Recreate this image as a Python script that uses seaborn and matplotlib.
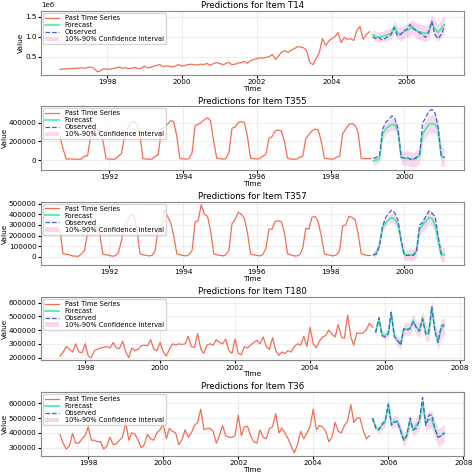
import numpy as np
import pandas as pd
import matplotlib
matplotlib.use("Agg")
import matplotlib.pyplot as plt
import matplotlib.ticker as mticker
import seaborn as sns

items = ["T14", "T355", "T357", "T180", "T36"]
past_start = ["1996-10", "1990-09", "1990-09", "1997-05", "1997-04"]

past_T14 = [.18,.19,.19,
 .20,.20,.21,.21,.22,.21,.23,.24,.20,.12,.15,.20,
 .18,.19,.20,.22,.24,.21,.22,.20,.21,.23,.20,.21,
 .26,.22,.23,.26,.28,.30,.25,.27,.26,.24,.27,.30,
 .26,.28,.30,.31,.30,.29,.31,.30,.33,.28,.32,.35,
 .33,.30,.32,.36,.30,.31,.34,.35,.38,.33,.40,.43,
 .45,.47,.46,.48,.50,.55,.43,.52,.62,.65,.60,.66,
 .70,.75,.74,.72,.65,.35,.30,.45,.60,.95,.78,.88,
 .95,1.0,1.1,.85,.98,.93,.95,.90,1.15,1.25,.93,1.05,
 1.12]
fc_T14 = [1.05,1.0,0.98,1.0,1.02,1.05,1.08,1.25,1.1,1.05,1.12,1.15,1.2,1.25,1.15,1.12,1.1,1.08,1.12,1.35,1.2,1.1,1.2,1.3]
obs_T14 = [1.0,.95,.98,.92,.95,1.0,1.05,1.22,1.02,1.05,1.15,1.18,1.3,1.2,1.15,1.1,1.05,.98,1.1,1.38,1.05,.95,1.05,1.25]
ci_T14 = [.12,.12,.13,.13,.14,.14,.15,.15,.16,.16,.17,.17,.18,.18,.19,.19,.2,.2,.21,.21,.22,.22,.23,.23]

past_T355 = [250,120,10,12,10,
 10,8,10,40,45,250,320,330,310,200,15,10,
 8,10,40,70,250,330,400,410,380,260,15,10,
 8,10,40,60,320,350,380,420,410,250,15,12,
 10,15,80,370,380,400,430,450,420,200,20,15,
 10,15,80,340,350,400,410,400,250,20,15,10,
 15,40,60,230,250,310,320,310,200,20,10,8,
 10,30,40,230,270,310,330,320,200,20,15,10,
 10,30,40,280,330,380,390,370,300,20,15,15,
 15]
fc_T355 = [-10,0,20,280,330,360,380,370,300,30,20, 15,10,5,15,50,280,330,380,390,380,330,40, 30]
obs_T355 = [15,30,50,330,400,430,470,440,330,30,20, 25,10,10,30,60,400,450,520,540,500,350,40, 25]
ci_T355 = [40,45,50,55,60,60,65,65,70,70,75,75,80,80,85,85,90,90,95,95,100,100,100,100]

past_T357 = [250,30,25,20,10,
 8,5,30,60,220,320,300,280,200,25,20,15,
 8,10,40,150,300,330,400,380,260,30,20,15,
 10,15,60,270,260,440,380,320,200,30,20,15,
 10,20,60,330,340,490,400,380,250,30,20,15,
 10,20,60,310,350,420,400,360,230,30,20,15,
 10,20,80,260,260,330,340,330,230,30,20,10,
 10,20,80,270,260,370,380,330,200,30,20,15,
 10,20,60,290,300,380,370,350,220,30,20,15,
 15]
fc_T357 = [20,40,120,280,320,350,370,350,300,150,20,20, 20,20,60,260,300,330,370,360,300,150,20,20]
obs_T357 = [15,30,100,290,370,410,440,410,340,150,20,15, 15,15,50,300,320,380,430,410,380,200,30,25]
ci_T357 = [30,30,35,35,40,40,45,45,50,50,50,55,55,55,60,60,60,65,65,65,70,70,70,70]

past_T180 = [210,240,280,260,240,300,240,235,
 300,210,200,250,260,270,275,280,270,310,270,265,
 320,240,200,270,250,260,285,290,285,330,260,250,
 310,240,210,260,300,290,300,295,300,355,280,275,
 375,260,230,290,300,290,330,310,300,335,250,230,
 335,230,220,280,270,290,310,325,300,350,280,260,
 345,250,215,240,230,250,240,280,300,290,355,280,
 420,300,270,320,350,360,400,370,350,440,350,340,
 510,350,290,380,375,380,400,450,420]
fc_T180 = [390,480,370,360,380,520,360,320,300,400,410,410,470,420,400,490,380,370,560,400,320,410,430]
obs_T180 = [380,490,360,350,370,530,350,330,290,410,400,410,460,420,390,480,370,380,570,390,310,430,440]
ci_T180 = [20,25,25,30,30,35,35,40,40,45,45,50,50,50,55,55,55,60,60,60,65,65,65]

past_T36 = [390,330,290,310,395,330,330,360,380,
 440,350,350,340,340,290,310,370,320,325,350,370,
 470,350,400,390,350,300,320,390,360,350,400,420,
 460,360,430,410,400,320,350,420,370,400,450,470,
 560,420,430,430,410,330,380,450,380,370,370,380,
 520,380,440,445,380,340,330,420,370,360,430,440,
 530,400,430,400,360,310,265,320,410,360,400,440,
 560,420,450,440,410,340,370,470,410,400,450,480,
 590,470,500,500,420,360,380]
fc_T36 = [490,440,420,450,470,600,460,480,470,420,350,390,480,420,450,480,600,460,490,490,420,370,380,400]
obs_T36 = [500,430,420,460,480,590,450,470,480,410,350,380,500,420,430,490,640,450,520,520,430,370,380,400]
ci_T36 = [20,25,25,30,30,35,35,40,40,40,45,45,50,50,50,55,55,55,60,60,60,60,60,60]

scale = {"T14": 1e6, "T355": 1e3, "T357": 1e3, "T180": 1e3, "T36": 1e3}
ystep = {"T14": 5e5, "T355": 2e5, "T357": 1e5, "T180": 1e5, "T36": 1e5}
data = {
    "T14": (past_T14, fc_T14, obs_T14, ci_T14),
    "T355": (past_T355, fc_T355, obs_T355, ci_T355),
    "T357": (past_T357, fc_T357, obs_T357, ci_T357),
    "T180": (past_T180, fc_T180, obs_T180, ci_T180),
    "T36": (past_T36, fc_T36, obs_T36, ci_T36),
}

plt.rcParams.update({"font.size": 5.3})
fig, axes = plt.subplots(5, 1, figsize=(4.74, 4.74), dpi=100)
for ax, item, start in zip(axes, items, past_start):
    past, fc, obs, ci = data[item]
    s = scale[item]
    pdates = pd.date_range(start, periods=len(past), freq="MS")
    fdates = pd.date_range(pdates[-1] + pd.DateOffset(months=1), periods=len(fc), freq="MS")
    past = np.array(past) * s; fc = np.array(fc) * s; obs = np.array(obs) * s; ci = np.array(ci) * s
    sns.lineplot(x=pdates, y=past, ax=ax, color="#f46d55", lw=0.9, label="Past Time Series")
    sns.lineplot(x=fdates, y=fc, ax=ax, color="#3cf0a8", lw=1.2, label="Forecast")
    sns.lineplot(x=fdates, y=obs, ax=ax, color="#4a5fd0", lw=0.9, ls="--", label="Observed")
    ax.fill_between(fdates, fc - ci, fc + ci, color="#f7a8d8", alpha=0.45, lw=0,
                    label="10%-90% Confidence Interval")
    ax.yaxis.set_major_locator(mticker.MultipleLocator(ystep[item]))
    ax.set_title(f"Predictions for Item {item}", fontsize=6.2, pad=2)
    ax.set_xlabel("Time", fontsize=5.3, labelpad=0.5)
    ax.set_ylabel("Value", fontsize=5.3, labelpad=1)
    ax.tick_params(labelsize=5.2, length=2, pad=1)
    ax.yaxis.get_offset_text().set_fontsize(5)
    ax.grid(True, alpha=0.3, lw=0.5)
    for sp in ax.spines.values():
        sp.set_color("#888888")
    ax.legend(loc="upper left", fontsize=4.8, framealpha=0.8, borderpad=0.3,
              labelspacing=0.15, handlelength=2.2, borderaxespad=0.3)
fig.tight_layout(pad=0.2, h_pad=0.7)
fig.savefig("out.png", dpi=100)
